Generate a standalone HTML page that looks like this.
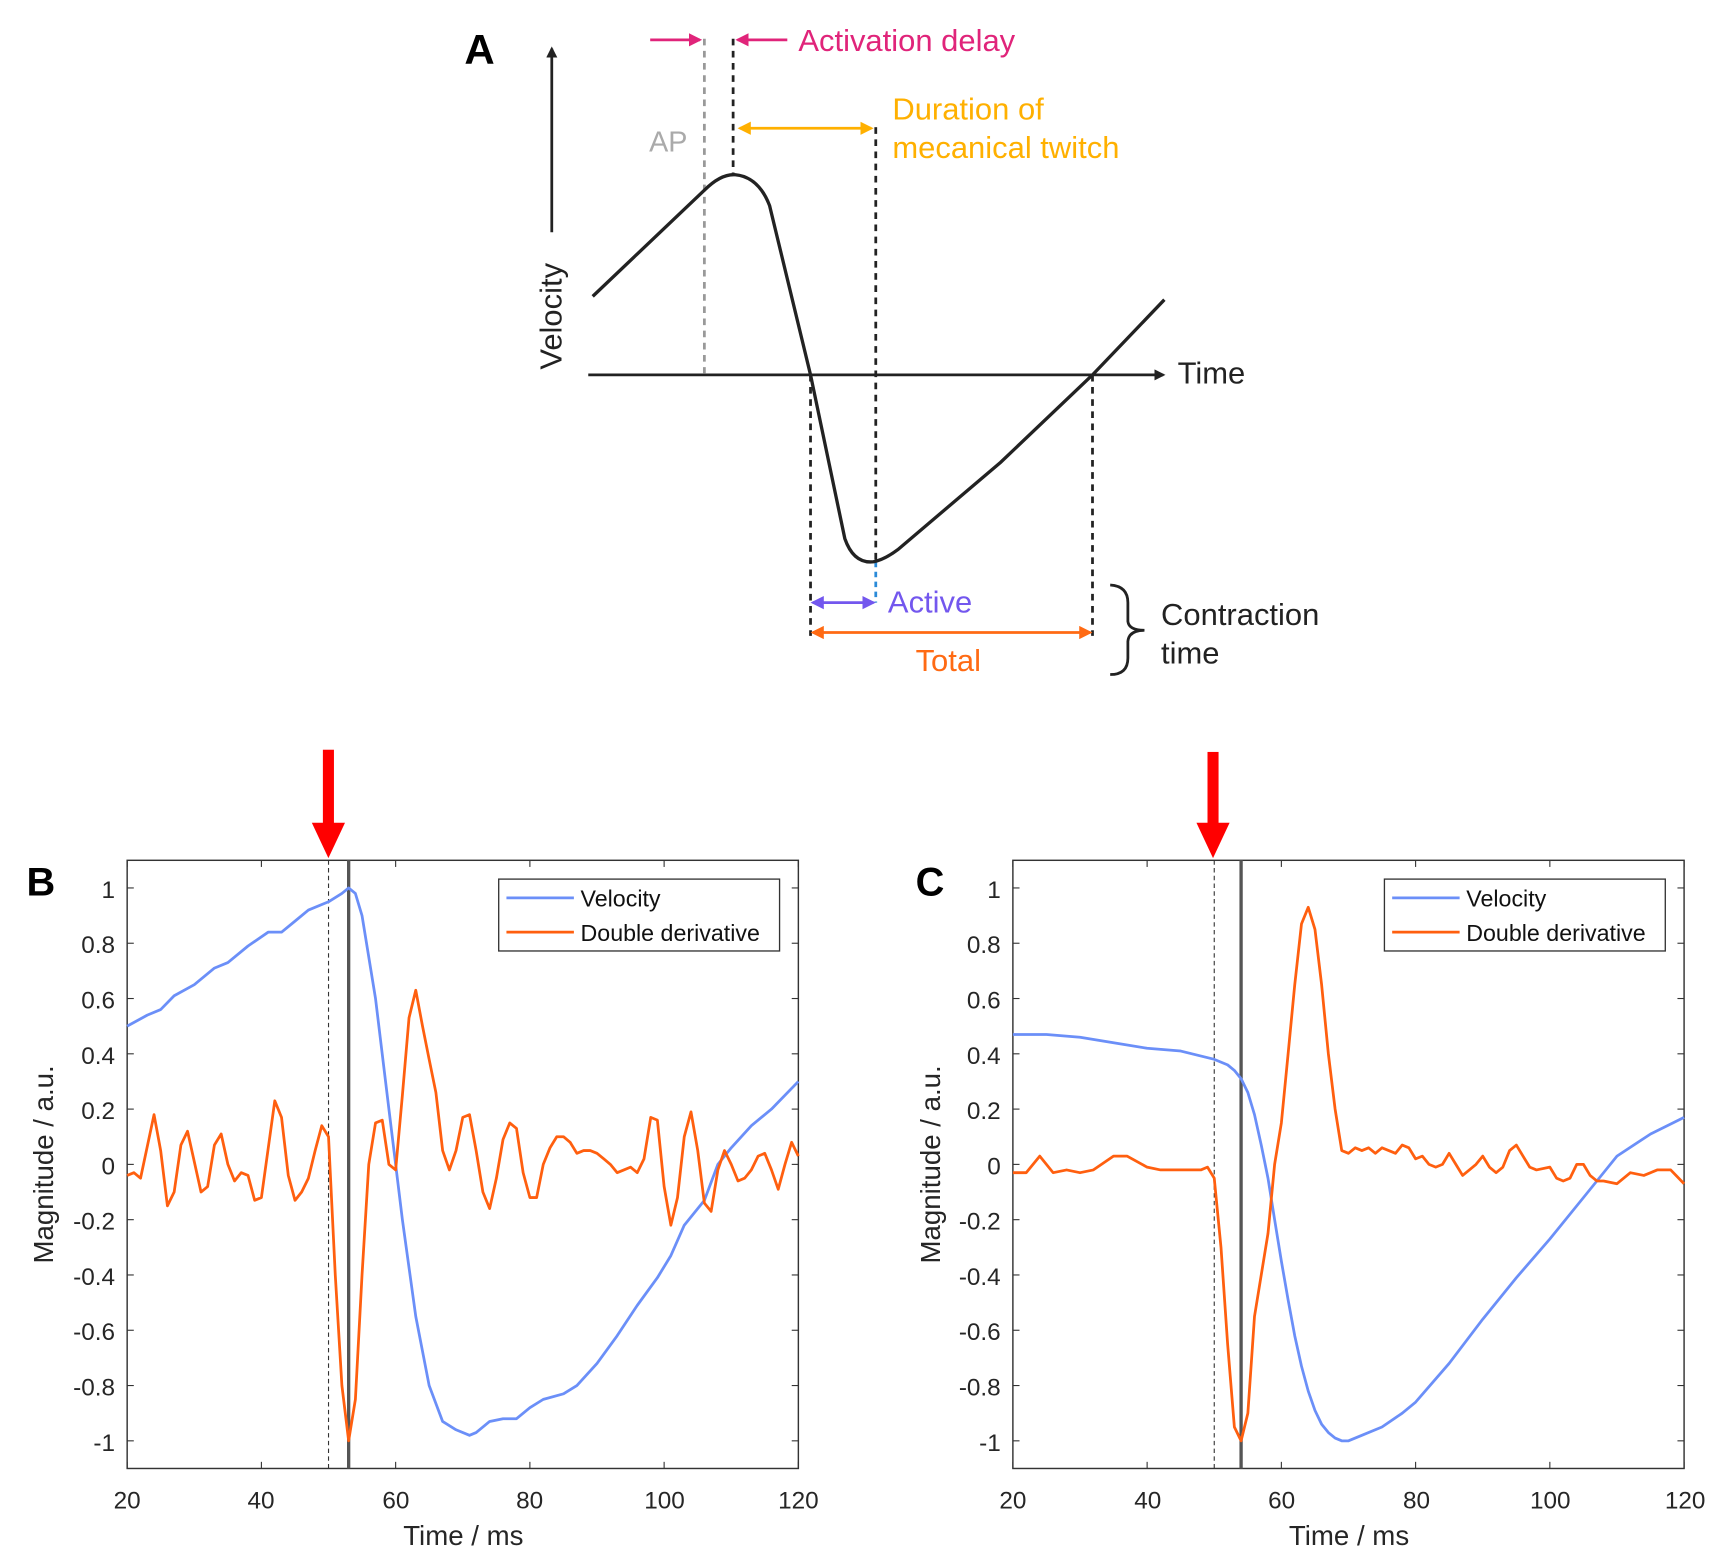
<!DOCTYPE html>
<html><head><meta charset="utf-8"><style>
html,body{margin:0;padding:0;background:#fff;}
svg{display:block;}
text{font-family:"Liberation Sans",sans-serif;}
</style></head><body>
<svg id="s" width="1725" height="1547" viewBox="0 0 1560 1399" xmlns="http://www.w3.org/2000/svg">
<defs>
<marker id="ak" markerWidth="10" markerHeight="10" refX="8" refY="5" orient="auto" markerUnits="userSpaceOnUse"><path d="M0,0 L10,5 L0,10 z" fill="#222"/></marker>
<marker id="ap" markerWidth="12" markerHeight="12" refX="10" refY="6" orient="auto" markerUnits="userSpaceOnUse"><path d="M0,0 L12,6 L0,12 z" fill="#e0247a"/></marker>
<marker id="ay" markerWidth="12" markerHeight="12" refX="10" refY="6" orient="auto-start-reverse" markerUnits="userSpaceOnUse"><path d="M0,0 L12,6 L0,12 z" fill="#ffb000"/></marker>
<marker id="av" markerWidth="12" markerHeight="12" refX="10" refY="6" orient="auto-start-reverse" markerUnits="userSpaceOnUse"><path d="M0,0 L12,6 L0,12 z" fill="#7357ee"/></marker>
<marker id="ao" markerWidth="12" markerHeight="12" refX="10" refY="6" orient="auto-start-reverse" markerUnits="userSpaceOnUse"><path d="M0,0 L12,6 L0,12 z" fill="#ff6a13"/></marker>
</defs>
<text x="420" y="58" font-size="38" font-weight="bold">A</text>
<line x1="499" y1="210" x2="499" y2="44" stroke="#222" stroke-width="2.5" marker-end="url(#ak)"/>
<text transform="translate(508,286) rotate(-90)" font-size="28" text-anchor="middle" fill="#222">Velocity</text>
<line x1="532" y1="339" x2="1052" y2="339" stroke="#222" stroke-width="2.5" marker-end="url(#ak)"/>
<text x="1065" y="347" font-size="28" fill="#222">Time</text>
<line x1="637" y1="35" x2="637" y2="339" stroke="#999" stroke-width="2.5" stroke-dasharray="6,5"/>
<line x1="663" y1="35" x2="663" y2="158" stroke="#222" stroke-width="2.5" stroke-dasharray="6,5"/>
<line x1="792" y1="115" x2="792" y2="508" stroke="#222" stroke-width="2.5" stroke-dasharray="6,5"/>
<line x1="733" y1="339" x2="733" y2="575" stroke="#222" stroke-width="2.5" stroke-dasharray="6,5"/>
<line x1="988" y1="339" x2="988" y2="575" stroke="#222" stroke-width="2.5" stroke-dasharray="6,5"/>
<line x1="792" y1="508" x2="792" y2="545" stroke="#2a8ad8" stroke-width="2.5" stroke-dasharray="5,4"/>
<path d="M536,268 L637,172 Q652,157 665,158 Q686,160 696,186 L733,339 L764,487 Q772,510 790,508 Q800,506 812,497 L905,418 L988,339 L1053,271" fill="none" stroke="#222" stroke-width="3"/>
<line x1="588" y1="36" x2="633" y2="36" stroke="#e0247a" stroke-width="2.5" marker-end="url(#ap)"/>
<line x1="712" y1="36" x2="667" y2="36" stroke="#e0247a" stroke-width="2.5" marker-end="url(#ap)"/>
<text x="722" y="46" font-size="28" fill="#e0247a">Activation delay</text>
<text x="587" y="137" font-size="26" fill="#aaa">AP</text>
<line x1="669" y1="116" x2="788" y2="116" stroke="#ffb000" stroke-width="2.5" marker-start="url(#ay)" marker-end="url(#ay)"/>
<text x="807" y="108" font-size="28" fill="#ffb000">Duration of</text>
<text x="807" y="143" font-size="28" fill="#ffb000">mecanical twitch</text>
<line x1="735" y1="545" x2="790" y2="545" stroke="#7357ee" stroke-width="2.5" marker-start="url(#av)" marker-end="url(#av)"/>
<text x="803" y="554" font-size="28" fill="#7357ee">Active</text>
<line x1="735" y1="572" x2="986" y2="572" stroke="#ff6a13" stroke-width="2.5" marker-start="url(#ao)" marker-end="url(#ao)"/>
<text x="828" y="607" font-size="28" fill="#ff6a13">Total</text>
<path d="M1004,529 Q1020,530 1020,545 L1020,562 Q1021,570 1035,570 Q1021,570 1020,580 L1020,595 Q1020,610 1004,610" fill="none" stroke="#222" stroke-width="2.5"/>
<text x="1050" y="565" font-size="28" fill="#222">Contraction</text>
<text x="1050" y="600" font-size="28" fill="#222">time</text>

<text x="24" y="810" font-size="36" font-weight="bold">B</text>
<text x="828" y="810" font-size="36" font-weight="bold">C</text>

<rect x="292" y="678" width="10" height="68" fill="#f00"/>
<path d="M282,744 L312,744 L297,776 z" fill="#f00"/>
<rect x="1092" y="680" width="10" height="66" fill="#f00"/>
<path d="M1082,744 L1112,744 L1097,776 z" fill="#f00"/>

<g id="B"></g>
<g id="C"></g>

<g font-size="22" fill="#262626" text-anchor="end">
<text x="104" y="812">1</text><text x="104" y="862">0.8</text><text x="104" y="912">0.6</text><text x="104" y="962">0.4</text><text x="104" y="1012">0.2</text><text x="104" y="1062">0</text><text x="104" y="1112">-0.2</text><text x="104" y="1162">-0.4</text><text x="104" y="1212">-0.6</text><text x="104" y="1262">-0.8</text><text x="104" y="1312">-1</text>
<text x="905" y="812">1</text><text x="905" y="862">0.8</text><text x="905" y="912">0.6</text><text x="905" y="962">0.4</text><text x="905" y="1012">0.2</text><text x="905" y="1062">0</text><text x="905" y="1112">-0.2</text><text x="905" y="1162">-0.4</text><text x="905" y="1212">-0.6</text><text x="905" y="1262">-0.8</text><text x="905" y="1312">-1</text>
</g>
<g font-size="22" fill="#262626" text-anchor="middle">
<text x="115" y="1364">20</text><text x="236" y="1364">40</text><text x="358" y="1364">60</text><text x="479" y="1364">80</text><text x="601" y="1364">100</text><text x="722" y="1364">120</text>
<text x="916" y="1364">20</text><text x="1038" y="1364">40</text><text x="1159" y="1364">60</text><text x="1281" y="1364">80</text><text x="1402" y="1364">100</text><text x="1524" y="1364">120</text>
</g>
<g font-size="25" fill="#262626" text-anchor="middle">
<text x="419" y="1397">Time / ms</text>
<text x="1220" y="1397">Time / ms</text>
<text transform="translate(48,1053) rotate(-90)">Magnitude / a.u.</text>
<text transform="translate(850,1053) rotate(-90)">Magnitude / a.u.</text>
</g>
</svg>
<script>
var NS="http://www.w3.org/2000/svg";
function el(p,t,a){var e=document.createElementNS(NS,t);for(var k in a)e.setAttribute(k,a[k]);p.appendChild(e);return e;}
function plot(id,x0,vel,dd,dash,solid){
 var g=document.getElementById(id),W=607,top=778,bot=1328;
 function X(t){return x0+(t-20)*W/100;} function Y(v){return top+(1.1-v)*250;}
 function path(d){return d.map(function(p,i){return (i?'L':'M')+X(p[0]).toFixed(1)+','+Y(p[1]).toFixed(1);}).join(' ');}
 el(g,'rect',{x:x0,y:top,width:W,height:bot-top,fill:'#fff',stroke:'#333','stroke-width':1.3});
 for(var t=20;t<=120;t+=20){var x=X(t);el(g,'line',{x1:x,y1:bot,x2:x,y2:bot-6,stroke:'#333'});el(g,'line',{x1:x,y1:top,x2:x,y2:top+6,stroke:'#333'});}
 for(var v=-1;v<=1.001;v+=0.2){var y=Y(v);el(g,'line',{x1:x0,y1:y,x2:x0+6,y2:y,stroke:'#333'});el(g,'line',{x1:x0+W,y1:y,x2:x0+W-6,y2:y,stroke:'#333'});}
 el(g,'line',{x1:X(dash),y1:top,x2:X(dash),y2:bot,stroke:'#333','stroke-width':1,'stroke-dasharray':'4,3'});
 el(g,'line',{x1:X(solid),y1:top,x2:X(solid),y2:bot,stroke:'#555','stroke-width':3});
 el(g,'path',{d:path(vel),fill:'none',stroke:'#6b8ff8','stroke-width':2.5,'stroke-linejoin':'round'});
 el(g,'path',{d:path(dd),fill:'none',stroke:'#ff5f0f','stroke-width':2.5,'stroke-linejoin':'round'});
 var lx=x0+336;
 el(g,'rect',{x:lx,y:795,width:254,height:65,fill:'#fff',stroke:'#333','stroke-width':1.2});
 el(g,'line',{x1:lx+7,y1:812,x2:lx+68,y2:812,stroke:'#6b8ff8','stroke-width':2.5});
 el(g,'line',{x1:lx+7,y1:843,x2:lx+68,y2:843,stroke:'#ff5f0f','stroke-width':2.5});
 var t1=el(g,'text',{x:lx+74,y:820,'font-size':21,fill:'#111'});t1.textContent='Velocity';
 var t2=el(g,'text',{x:lx+74,y:851,'font-size':21,fill:'#111'});t2.textContent='Double derivative';
}
var bv=[[20,0.5],[23,0.54],[25,0.56],[27,0.61],[30,0.65],[33,0.71],[35,0.73],[38,0.79],[41,0.84],[43,0.84],[45,0.88],[47,0.92],[50,0.95],[52,0.98],[53,1.0],[54,0.98],[55,0.9],[57,0.6],[59,0.2],[61,-0.2],[63,-0.55],[65,-0.8],[67,-0.93],[69,-0.96],[71,-0.98],[72,-0.97],[74,-0.93],[76,-0.92],[78,-0.92],[80,-0.88],[82,-0.85],[85,-0.83],[87,-0.8],[90,-0.72],[93,-0.62],[96,-0.51],[99,-0.41],[101,-0.33],[103,-0.22],[106,-0.13],[108,0.0],[110,0.06],[113,0.14],[116,0.2],[120,0.3]];
var bd=[[20,-0.04],[21,-0.03],[22,-0.05],[24,0.18],[25,0.05],[26,-0.15],[27,-0.1],[28,0.07],[29,0.12],[31,-0.1],[32,-0.08],[33,0.07],[34,0.11],[35,0.0],[36,-0.06],[37,-0.03],[38,-0.04],[39,-0.13],[40,-0.12],[42,0.23],[43,0.17],[44,-0.04],[45,-0.13],[46,-0.1],[47,-0.05],[48,0.05],[49,0.14],[50,0.1],[51,-0.4],[52,-0.8],[53,-1.0],[54,-0.85],[55,-0.4],[56,0.0],[57,0.15],[58,0.16],[59,0.0],[60,-0.02],[61,0.25],[62,0.53],[63,0.63],[64,0.5],[65,0.38],[66,0.26],[67,0.05],[68,-0.02],[69,0.05],[70,0.17],[71,0.18],[72,0.05],[73,-0.1],[74,-0.16],[75,-0.05],[76,0.09],[77,0.15],[78,0.13],[79,-0.03],[80,-0.12],[81,-0.12],[82,0.0],[83,0.06],[84,0.1],[85,0.1],[86,0.08],[87,0.04],[88,0.05],[89,0.05],[90,0.04],[91,0.02],[92,0.0],[93,-0.03],[94,-0.02],[95,-0.01],[96,-0.03],[97,0.02],[98,0.17],[99,0.16],[100,-0.08],[101,-0.22],[102,-0.12],[103,0.1],[104,0.19],[105,0.05],[106,-0.14],[107,-0.17],[108,-0.02],[109,0.05],[110,0.0],[111,-0.06],[112,-0.05],[113,-0.02],[114,0.03],[115,0.04],[116,-0.02],[117,-0.09],[118,0.0],[119,0.08],[120,0.03]];
var cv=[[20,0.47],[25,0.47],[30,0.46],[35,0.44],[40,0.42],[45,0.41],[50,0.38],[52,0.36],[53,0.34],[54,0.31],[55,0.26],[56,0.18],[57,0.07],[58,-0.05],[59,-0.2],[60,-0.35],[61,-0.49],[62,-0.62],[63,-0.73],[64,-0.82],[65,-0.89],[66,-0.94],[67,-0.97],[68,-0.99],[69,-1.0],[70,-1.0],[72,-0.98],[75,-0.95],[78,-0.9],[80,-0.86],[85,-0.72],[90,-0.56],[95,-0.41],[100,-0.27],[105,-0.12],[108,-0.03],[110,0.03],[115,0.11],[120,0.17]];
var cd=[[20,-0.03],[22,-0.03],[24,0.03],[26,-0.03],[28,-0.02],[30,-0.03],[32,-0.02],[35,0.03],[37,0.03],[40,-0.01],[42,-0.02],[48,-0.02],[49,-0.01],[50,-0.05],[51,-0.3],[52,-0.65],[53,-0.95],[54,-1.0],[55,-0.9],[56,-0.55],[58,-0.25],[59,0.0],[60,0.15],[61,0.4],[62,0.65],[63,0.87],[64,0.93],[65,0.85],[66,0.65],[67,0.4],[68,0.2],[69,0.05],[70,0.04],[71,0.06],[72,0.05],[73,0.06],[74,0.04],[75,0.06],[76,0.05],[77,0.04],[78,0.07],[79,0.06],[80,0.02],[81,0.03],[82,0.0],[83,-0.01],[84,0.0],[85,0.04],[86,0.0],[87,-0.04],[88,-0.02],[89,0.0],[90,0.03],[91,-0.01],[92,-0.03],[93,-0.01],[94,0.05],[95,0.07],[96,0.03],[97,-0.01],[98,-0.02],[100,-0.01],[101,-0.05],[102,-0.06],[103,-0.05],[104,0.0],[105,0.0],[106,-0.04],[107,-0.06],[108,-0.06],[110,-0.07],[112,-0.03],[114,-0.04],[116,-0.02],[118,-0.02],[120,-0.07]];
plot('B',115,bv,bd,50,53);
plot('C',916,cv,cd,50,54);
</script>
</body></html>
